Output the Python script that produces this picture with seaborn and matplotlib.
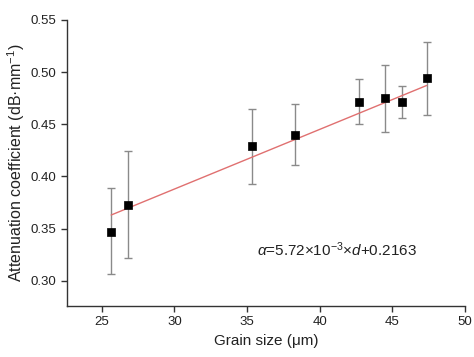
import matplotlib
matplotlib.use("Agg")
import matplotlib.pyplot as plt
import seaborn as sns
import numpy as np
import pandas as pd

grain_size = [25.64, 26.83, 35.33, 38.27, 42.72, 44.51, 45.68, 47.36]
attenuation = [0.347, 0.373, 0.429, 0.440, 0.471, 0.475, 0.471, 0.494]
err_upper = [0.389, 0.424, 0.465, 0.469, 0.493, 0.507, 0.487, 0.529]
err_lower = [0.306, 0.322, 0.393, 0.411, 0.450, 0.443, 0.456, 0.459]
fit_slope = 5.72e-3
fit_intercept = 0.2163
x_ticks = [25, 30, 35, 40, 45, 50]
y_ticks = [0.30, 0.35, 0.40, 0.45, 0.50, 0.55]

sns.set_style("ticks")
plt.rcParams['font.family'] = ['Liberation Sans', 'DejaVu Sans']
plt.rcParams['mathtext.fontset'] = 'custom'
plt.rcParams['mathtext.rm'] = 'Liberation Sans'
plt.rcParams['mathtext.it'] = 'Liberation Sans:italic'

df = pd.DataFrame({"x": grain_size, "y": attenuation})

fig = plt.figure(figsize=(4.74, 3.57), dpi=100)
ax = fig.add_axes([67/474, 1-306/357, (465-67)/474, (306-20)/357])

yerr = np.array([np.array(attenuation) - np.array(err_lower),
                 np.array(err_upper) - np.array(attenuation)])
ax.errorbar(grain_size, attenuation, yerr=yerr, fmt='none', ecolor='#8a8a8a',
            elinewidth=1.0, capsize=3, capthick=1.0, zorder=2)

fx = np.array([grain_size[0], grain_size[-1]])
fit_df = pd.DataFrame({"x": fx, "y": fit_slope * fx + fit_intercept})
sns.lineplot(data=fit_df, x="x", y="y", ax=ax, color='#e07070', linewidth=1.0, zorder=3)

sns.scatterplot(data=df, x="x", y="y", ax=ax, marker='s', color='black', s=40,
                edgecolor='black', linewidth=0.5, zorder=4)

ax.set_xlim(22.6, 50)
ax.set_ylim(0.2757, 0.55)
ax.set_xticks(x_ticks)
ax.set_yticks(y_ticks)
ax.set_xticklabels([str(t) for t in x_ticks])
ax.set_yticklabels([f"{t:.2f}" for t in y_ticks])
ax.tick_params(direction='out', length=4, width=1, colors='#333333', labelsize=9.5,
               labelcolor='#222222')
for s in ['top', 'right']:
    ax.spines[s].set_visible(False)
for s in ['left', 'bottom']:
    ax.spines[s].set_color('#333333')
    ax.spines[s].set_linewidth(1.0)

ax.set_xlabel("Grain size (μm)", fontsize=11, color='#222222', labelpad=4)
ax.set_ylabel("Attenuation coefficient (dB·mm$^{-1}$)", fontsize=11.5, color='#222222', labelpad=3)

ax.text(41.2, 0.330, r"$\mathit{α}$=5.72×10$^{-3}$×$\mathit{d}$+0.2163", fontsize=11,
        ha='center', va='center', color='#222222')

fig.savefig("out.png", dpi=100)
